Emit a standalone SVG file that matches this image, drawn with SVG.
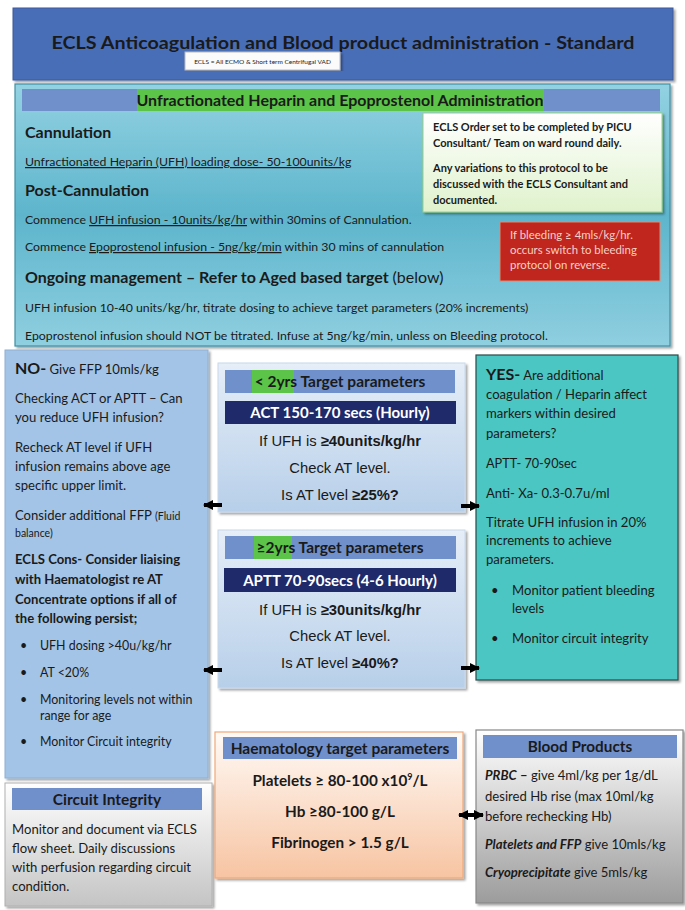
<svg xmlns="http://www.w3.org/2000/svg" width="685" height="910" viewBox="0 0 685 910">
<defs>
<linearGradient id="gTeal" x1="0" y1="0" x2="0" y2="1">
<stop offset="0" stop-color="#93d2e2"/><stop offset="0.5" stop-color="#5db5cc"/><stop offset="1" stop-color="#8fcfe0"/>
</linearGradient>
<linearGradient id="gGreen" x1="0" y1="0" x2="0" y2="1">
<stop offset="0" stop-color="#ffffff"/><stop offset="1" stop-color="#dff2cc"/>
</linearGradient>
<linearGradient id="gTarget" x1="0" y1="0" x2="0" y2="1">
<stop offset="0" stop-color="#e6eef8"/><stop offset="1" stop-color="#b7cfe9"/>
</linearGradient>
<linearGradient id="gGrey" x1="0" y1="0" x2="0" y2="1">
<stop offset="0" stop-color="#ffffff"/><stop offset="1" stop-color="#c4c4c4"/>
</linearGradient>
<linearGradient id="gGrey2" x1="0" y1="0" x2="0" y2="1">
<stop offset="0" stop-color="#ffffff"/><stop offset="1" stop-color="#9c9c9c"/>
</linearGradient>
<linearGradient id="gPeach" x1="0" y1="0" x2="0" y2="1">
<stop offset="0" stop-color="#fffaf6"/><stop offset="1" stop-color="#f7c4a2"/>
</linearGradient>
<filter id="sh" x="-5%" y="-5%" width="110%" height="110%">
<feDropShadow dx="2" dy="2" stdDeviation="1.2" flood-color="#000" flood-opacity="0.35"/>
</filter>
<marker id="ah" viewBox="0 0 10 10" refX="9" refY="5" markerWidth="2.6" markerHeight="3" orient="auto-start-reverse">
<path d="M0,0 L10,5 L0,10 z" fill="#000"/>
</marker>
</defs>
<style>
text{font-family:Lato,"Liberation Sans",sans-serif;fill:#1a1a1a}
.b{font-weight:bold}
.h{font-size:16px;font-weight:bold}
.t{font-size:12.3px}
.s{font-size:13.1px}
.bl{font-size:12.4px}
.n{font-size:11px;font-weight:bold}
.r{font-size:11.4px;fill:#f6d0c6}
.bar{fill:#7090cc}
.navy{fill:#1f2a6b}
.ar{font-family:"Liberation Sans",Arial,sans-serif;font-size:14.8px}
.c{text-anchor:middle}
.conn{stroke:#000;stroke-width:4;fill:none;marker-end:url(#ah)}
</style>

<g id="header">
<rect x="13" y="8" width="660" height="72" fill="#4a6eb8" stroke="#3b5a99" stroke-width="1" filter="url(#sh)"/>
<text x="343" y="49" class="c b" font-size="16.5" textLength="583" lengthAdjust="spacingAndGlyphs">ECLS Anticoagulation and Blood product administration - Standard</text>
<rect x="185" y="52" width="155" height="18" fill="#fbfbfb" stroke="#bbb" filter="url(#sh)"/>
<text x="262.5" y="64" class="c" font-size="6.5">ECLS = All ECMO &amp; Short term Centrifugal VAD</text>
</g>

<g id="heparin">
<rect x="15" y="84" width="655" height="262" fill="url(#gTeal)" stroke="#3f8fa5" stroke-width="1.2" filter="url(#sh)"/>
<rect x="22" y="89" width="638" height="22" class="bar"/>
<rect x="137" y="89" width="407" height="22" fill="#5cc448"/>
<text x="340" y="106" class="c b" font-size="16">Unfractionated Heparin and Epoprostenol Administration</text>
<text x="25" y="138" class="h">Cannulation</text>
<text x="25" y="166" class="t" text-decoration="underline">Unfractionated Heparin (UFH) loading dose- 50-100units/kg</text>
<text x="25" y="196" class="h">Post-Cannulation</text>
<text x="25" y="224" class="t">Commence <tspan text-decoration="underline">UFH infusion - 10units/kg/hr</tspan> within 30mins of Cannulation.</text>
<text x="25" y="251" class="t">Commence <tspan text-decoration="underline">Epoprostenol infusion - 5ng/kg/min</tspan> within 30 mins of cannulation</text>
<text x="25" y="283" class="h">Ongoing management – Refer to Aged based target <tspan font-weight="normal">(below)</tspan></text>
<text x="25" y="312" class="t">UFH infusion 10-40 units/kg/hr, titrate dosing to achieve target parameters (20% increments)</text>
<text x="25" y="340" class="t">Epoprostenol infusion should NOT be titrated. Infuse at 5ng/kg/min, unless on Bleeding protocol.</text>
</g>

<g id="order-note">
<rect x="423" y="113" width="239" height="99" fill="url(#gGreen)" stroke="#9ccf7c" stroke-width="1" filter="url(#sh)"/>
<text x="433" y="131" class="n">ECLS Order set to be completed by PICU</text>
<text x="433" y="147" class="n">Consultant/ Team on ward round daily.</text>
<text x="433" y="172" class="n">Any variations to this protocol to be</text>
<text x="433" y="188" class="n">discussed with the ECLS Consultant and</text>
<text x="433" y="204" class="n">documented.</text>
</g>

<g id="bleeding-note">
<rect x="500" y="222" width="160" height="59" fill="#c0261d" stroke="#e08a70" stroke-width="1"/>
<text x="510" y="239" class="r">If bleeding ≥ 4mls/kg/hr.</text>
<text x="510" y="254" class="r">occurs switch to bleeding</text>
<text x="510" y="269" class="r">protocol on reverse.</text>
</g>

<g id="no-box">
<rect x="5" y="350" width="203" height="428" fill="#a3c4e6" stroke="#8fb0d4" stroke-width="1" filter="url(#sh)"/>
<text x="15" y="374" class="s"><tspan class="b" font-size="16">NO-</tspan> Give FFP 10mls/kg</text>
<text x="15" y="403" class="s">Checking ACT or APTT – Can</text>
<text x="15" y="422" class="s">you reduce UFH infusion?</text>
<text x="15" y="452" class="s">Recheck AT level if UFH</text>
<text x="15" y="471" class="s">infusion remains above age</text>
<text x="15" y="490" class="s">specific upper limit.</text>
<text x="15" y="520" class="s">Consider additional FFP <tspan font-size="10.5">(Fluid</tspan></text>
<text x="15" y="537" font-size="10.5">balance)</text>
<text x="15" y="564" class="s b">ECLS Cons- Consider liaising</text>
<text x="15" y="584" class="s b">with Haematologist re AT</text>
<text x="15" y="604" class="s b">Concentrate options if all of</text>
<text x="15" y="623" class="s b">the following persist;</text>
<text x="20" y="650" class="bl">•</text><text x="40" y="650" class="bl">UFH dosing &gt;40u/kg/hr</text>
<text x="20" y="677" class="bl">•</text><text x="40" y="677" class="bl">AT &lt;20%</text>
<text x="20" y="704" class="bl">•</text><text x="40" y="704" class="bl">Monitoring levels not within</text>
<text x="40" y="720" class="bl">range for age</text>
<text x="20" y="746" class="bl">•</text><text x="40" y="746" class="bl">Monitor Circuit integrity</text>
</g>

<g id="under2">
<rect x="218" y="363" width="247" height="149" fill="url(#gTarget)" stroke="#c8d8ea" stroke-width="1" filter="url(#sh)"/>
<rect x="225" y="370" width="230" height="23" class="bar"/>
<rect x="252" y="370" width="42" height="23" fill="#5cc448"/>
<text x="340" y="387" class="c b" font-size="15.5">&lt; 2yrs Target parameters</text>
<rect x="225" y="401" width="231" height="23" class="navy"/>
<text x="340" y="418" class="c b" font-size="15" style="fill:#fff">ACT 150-170 secs (Hourly)</text>
<text x="340" y="446" class="c ar">If UFH is <tspan class="b">≥40units/kg/hr</tspan></text>
<text x="340" y="473" class="c ar">Check AT level.</text>
<text x="340" y="500" class="c ar">Is AT level <tspan class="b">≥25%?</tspan></text>
</g>

<g id="over2">
<rect x="218" y="530" width="247" height="158" fill="url(#gTarget)" stroke="#c8d8ea" stroke-width="1" filter="url(#sh)"/>
<rect x="225" y="536" width="231" height="23" class="bar"/>
<rect x="254" y="536" width="38" height="23" fill="#5cc448"/>
<text x="340" y="553" class="c b" font-size="15.5">≥2yrs Target parameters</text>
<rect x="224" y="568" width="232" height="24" class="navy"/>
<text x="340" y="586" class="c b" font-size="15" style="fill:#fff">APTT 70-90secs (4-6 Hourly)</text>
<text x="340" y="615" class="c ar">If UFH is <tspan class="b">≥30units/kg/hr</tspan></text>
<text x="340" y="641" class="c ar">Check AT level.</text>
<text x="340" y="668" class="c ar">Is AT level <tspan class="b">≥40%?</tspan></text>
</g>

<g id="yes-box">
<rect x="476" y="355" width="202" height="325" fill="#4cc6c2" stroke="#2e4a4a" stroke-width="1.2" filter="url(#sh)"/>
<text x="486" y="380" class="s"><tspan class="b" font-size="16">YES-</tspan> Are additional</text>
<text x="486" y="399" class="s">coagulation / Heparin affect</text>
<text x="486" y="418" class="s">markers within desired</text>
<text x="486" y="438" class="s">parameters?</text>
<text x="486" y="468" font-size="12.7">APTT- 70-90sec</text>
<text x="486" y="498" class="s">Anti- Xa- 0.3-0.7u/ml</text>
<text x="486" y="527" class="s">Titrate UFH infusion in 20%</text>
<text x="486" y="545" class="s">increments to achieve</text>
<text x="486" y="564" class="s">parameters.</text>
<text x="491" y="595" class="s">•</text><text x="512" y="595" class="s">Monitor patient bleeding</text>
<text x="512" y="613" class="s">levels</text>
<text x="491" y="643" class="s">•</text><text x="512" y="643" class="s">Monitor circuit integrity</text>
</g>

<g id="circuit">
<rect x="5" y="783" width="207" height="123" fill="url(#gGrey)" stroke="#b0b0b0" stroke-width="1" filter="url(#sh)"/>
<rect x="12" y="788" width="190" height="22" class="bar"/>
<text x="107" y="805" class="c b" font-size="15.5">Circuit Integrity</text>
<text x="12" y="834" class="s">Monitor and document via ECLS</text>
<text x="12" y="853" class="s">flow sheet. Daily discussions</text>
<text x="12" y="872" class="s">with perfusion regarding circuit</text>
<text x="12" y="891" class="s">condition.</text>
</g>

<g id="haematology">
<rect x="215" y="732" width="248" height="146" fill="url(#gPeach)" stroke="#f0a878" stroke-width="1.2" filter="url(#sh)"/>
<rect x="223" y="737" width="234" height="22" class="bar"/>
<text x="340" y="754" class="c b" font-size="15.5">Haematology target parameters</text>
<text x="340" y="786" class="c b" font-size="15.3">Platelets ≥ 80-100 x10<tspan font-size="9" dy="-6">9</tspan><tspan dy="6">/L</tspan></text>
<text x="340" y="817" class="c b" font-size="15.3">Hb ≥80-100 g/L</text>
<text x="340" y="848" class="c b" font-size="15.3">Fibrinogen &gt; 1.5 g/L</text>
</g>

<g id="blood-products">
<rect x="476" y="730" width="207" height="173" fill="url(#gGrey2)" stroke="#888" stroke-width="1.2" filter="url(#sh)"/>
<rect x="483" y="735" width="194" height="23" class="bar"/>
<text x="580" y="752" class="c b" font-size="15.3">Blood Products</text>
<text x="485" y="780" class="s"><tspan class="b" font-style="italic">PRBC</tspan> <tspan class="b">–</tspan> give 4ml/kg per 1g/dL</text>
<text x="485" y="801" class="s">desired Hb rise (max 10ml/kg</text>
<text x="485" y="821" class="s">before rechecking Hb)</text>
<text x="485" y="849" class="s"><tspan class="b" font-style="italic">Platelets and FFP</tspan> give 10mls/kg</text>
<text x="485" y="877" class="s"><tspan class="b" font-style="italic">Cryoprecipitate</tspan> give 5mls/kg</text>
</g>

<g id="connectors">
<line x1="222" y1="505" x2="204" y2="505" class="conn"/>
<line x1="461" y1="506" x2="479" y2="506" class="conn"/>
<line x1="222" y1="670" x2="204" y2="670" class="conn"/>
<line x1="461" y1="668" x2="479" y2="668" class="conn"/>
<line x1="459" y1="815" x2="483" y2="815" class="conn" marker-start="url(#ah)"/>
</g>
</svg>
